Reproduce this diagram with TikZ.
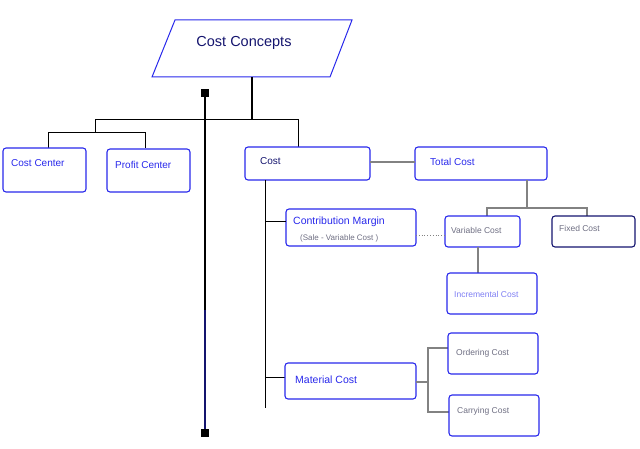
\documentclass[tikz,border=0pt]{standalone}
\usepackage{fontspec}
\setmainfont{Liberation Sans}
\definecolor{bb}{RGB}{40,40,235}
\definecolor{nv}{RGB}{20,20,110}
\definecolor{gl}{RGB}{130,130,130}
\definecolor{gt}{RGB}{110,110,130}
\begin{document}
\begin{tikzpicture}[x=1pt,y=-1pt,
 box/.style={draw=bb,line width=1.1pt,rounded corners=3pt},
 lbl/.style={anchor=west,inner sep=0pt,font=\fontsize{10}{11}\selectfont,text=bb},
 glbl/.style={anchor=west,inner sep=0pt,font=\fontsize{8.5}{9}\selectfont,text=gt},
 bl/.style={black,line width=1pt},
 gr/.style={gl,line width=1.1pt}]
\useasboundingbox (0,0) rectangle (640,449);
% title
\draw[draw=bb,line width=1pt] (175,20) -- (352,20) -- (330,77) -- (152,77) -- cycle;
\node[inner sep=0pt,font=\fontsize{14.5}{16}\selectfont,text=nv] (cc) at (244,43) {Cost Concepts};
\coordinate (t1) at (252,77);
\coordinate (t2) at (252,120);
\draw[black,line width=1.6pt] (t1) -- (t2);
\draw[bl] (95,120) -- (298,120) -- (298,147);
\draw[bl] (95,120) -- (95,133);
\draw[bl] (48,148) -- (48,133) -- (145,133) -- (145,148);
% spine
\coordinate (s1) at (205,93);
\coordinate (s2) at (205,310);
\coordinate (s3) at (205,433);
\draw[black,line width=2pt] (s1) -- (s2);
\draw[nv,line width=2pt] (s2) -- (s3);
\fill[black] (201,89) rectangle (209,97);
\fill[black] (201,429) rectangle (209,437);
% boxes
\draw[box] (3,148) rectangle (86,192);
\node[lbl] (ccen) at (11,163) {Cost Center};
\draw[box] (107,149) rectangle (190,192);
\node[lbl] (pc) at (115,165) {Profit Center};
\draw[box] (245,147) rectangle (370,180);
\node[lbl,text=nv] (cost) at (260,161) {Cost};
\draw[box] (415,147) rectangle (547,180);
\node[lbl] (tc) at (430,162) {Total Cost};
\draw[gr] (370,162) -- (415,162);
\draw[gr] (527,180) -- (527,208);
\draw[gr] (487,216) -- (487,208) -- (587,208) -- (587,216);
\draw[box] (445,216) rectangle (520,247);
\node[glbl] (vc) at (451,230) {Variable Cost};
\draw[box,draw=nv] (552,216) rectangle (635,247);
\node[glbl] (fc) at (559,228) {Fixed Cost};
\draw[box] (286,209) rectangle (416,246);
\node[lbl,font=\fontsize{10.5}{11}\selectfont] (cm) at (293,222) {Contribution Margin};
\node[glbl,font=\fontsize{8}{9}\selectfont] (cm2) at (300,238) {(Sale - Variable Cost )};
\draw[gl,line width=0.8pt,dotted] (416,235) -- (445,235);
\draw[gr] (478,247) -- (478,273);
\draw[box] (447,273) rectangle (537,314);
\node[glbl,text=bb!60] (ic) at (454,294) {Incremental Cost};
\draw[bl] (265,180) -- (265,408);
\draw[bl] (265,222) -- (286,222);
\draw[bl] (265,377) -- (285,377);
\draw[box] (285,363) rectangle (416,399);
\node[lbl,font=\fontsize{10.5}{11}\selectfont] (mc) at (295,380) {Material Cost};
\draw[gr] (416,382) -- (428,382);
\draw[gr] (448,348) -- (428,348) -- (428,412) -- (449,412);
\draw[box] (448,333) rectangle (538,374);
\node[glbl] (oc) at (456,353) {Ordering Cost};
\draw[box] (449,395) rectangle (539,436);
\node[glbl] (ca) at (457,411) {Carrying Cost};
\end{tikzpicture}
\end{document}
